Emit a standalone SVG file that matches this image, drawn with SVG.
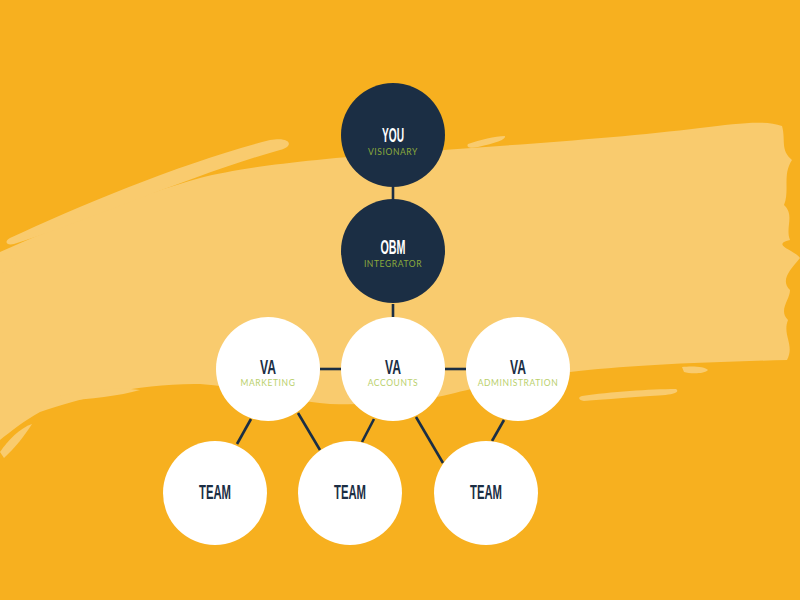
<svg xmlns="http://www.w3.org/2000/svg" width="800" height="600" viewBox="0 0 800 600">
<style>
.dark{fill:#1B2E44}
.light{fill:#FFFFFF}
.t{font-family:"Liberation Sans",Arial,sans-serif;font-weight:bold;font-size:20px;text-anchor:middle}
.tw{fill:#FFFFFF}
.td{fill:#1B2E44}
.s{font-family:Lato,"Open Sans",sans-serif;font-size:8.5px;letter-spacing:0.6px;text-anchor:middle}
.sd{fill:#8BAA3C}
.sl{fill:#B9D06C}
.conn line{stroke:#1B2E44;stroke-width:2.6}
.brush{fill:#F9CB6E}
</style>
<rect width="800" height="600" fill="#F7B01F"/>
<g id="brush">
<path class="brush" d="M0,252 C60,225 140,195 200,178 C240,168 300,160 400,153 C500,146 620,138 700,128 C740,123 765,120 782,126 C786,140 780,150 792,160 C782,175 790,190 784,205 C795,215 785,228 790,240 C770,245 795,250 800,258 C790,270 780,280 790,290 C790,300 778,310 788,320 C782,335 795,345 787,360 C700,362 620,366 570,372 C520,380 480,386 455,393 C420,402 380,405 330,404 C280,400 240,386 200,384 C140,383 80,398 40,412 C25,420 10,432 0,440 Z"/>
<path class="brush" d="M10,238 C80,205 190,160 270,140 C292,136 294,147 280,150 C200,172 90,220 14,244 C6,246 4,241 10,238 Z"/>
<path class="brush" d="M0,262 C10,255 20,258 15,265 C10,270 4,272 0,274 Z"/>
<path class="brush" d="M468,144 C480,140 495,136 505,136 C506,140 495,143 478,147 C470,149 466,147 468,144 Z"/>
<path class="brush" d="M582,396 C610,392 650,389 676,389 C680,392 676,395 650,396 C620,398 598,400 584,401 C578,400 578,397 582,396 Z"/>
<path class="brush" d="M682,367 C690,366 705,366 708,370 C705,374 690,374 684,372 Z"/>
<path class="brush" d="M60,396 C90,389 120,387 140,390 C120,396 90,399 62,401 Z"/>
<path class="brush" d="M0,452 C8,440 20,428 32,424 C25,435 15,448 4,458 Z"/>
</g>
<g id="connectors" class="conn">
<line x1="393" y1="187" x2="393" y2="200"/>
<line x1="393" y1="304" x2="393" y2="317"/>
<line x1="320" y1="369" x2="341" y2="369"/>
<line x1="445" y1="369" x2="466" y2="369"/>
<line x1="251" y1="419" x2="237" y2="444"/>
<line x1="298" y1="413" x2="320" y2="450"/>
<line x1="374" y1="419" x2="362" y2="442"/>
<line x1="416" y1="417" x2="443" y2="463"/>
<line x1="504" y1="420" x2="492" y2="441"/>
</g>
<g id="node-you">
<circle class="dark" cx="393" cy="135" r="52"/>
<text class="t tw" x="393" y="142" textLength="22" lengthAdjust="spacingAndGlyphs">YOU</text>
<text class="s sd" x="393" y="155">VISIONARY</text>
</g>
<g id="node-obm">
<circle class="dark" cx="393" cy="251" r="52"/>
<text class="t tw" x="393" y="254" textLength="25" lengthAdjust="spacingAndGlyphs">OBM</text>
<text class="s sd" x="393" y="267">INTEGRATOR</text>
</g>
<g id="node-va-marketing">
<circle class="light" cx="268" cy="369" r="52"/>
<text class="t td" x="268" y="374" textLength="16" lengthAdjust="spacingAndGlyphs">VA</text>
<text class="s sl" x="268" y="386">MARKETING</text>
</g>
<g id="node-va-accounts">
<circle class="light" cx="393" cy="369" r="52"/>
<text class="t td" x="393" y="374" textLength="16" lengthAdjust="spacingAndGlyphs">VA</text>
<text class="s sl" x="393" y="386">ACCOUNTS</text>
</g>
<g id="node-va-administration">
<circle class="light" cx="518" cy="369" r="52"/>
<text class="t td" x="518" y="374" textLength="16" lengthAdjust="spacingAndGlyphs">VA</text>
<text class="s sl" x="518" y="386">ADMINISTRATION</text>
</g>
<g id="node-team-1">
<circle class="light" cx="215" cy="493" r="52"/>
<text class="t td" x="215" y="499" textLength="32" lengthAdjust="spacingAndGlyphs">TEAM</text>
</g>
<g id="node-team-2">
<circle class="light" cx="350" cy="493" r="52"/>
<text class="t td" x="350" y="499" textLength="32" lengthAdjust="spacingAndGlyphs">TEAM</text>
</g>
<g id="node-team-3">
<circle class="light" cx="486" cy="493" r="52"/>
<text class="t td" x="486" y="499" textLength="32" lengthAdjust="spacingAndGlyphs">TEAM</text>
</g>
</svg>
